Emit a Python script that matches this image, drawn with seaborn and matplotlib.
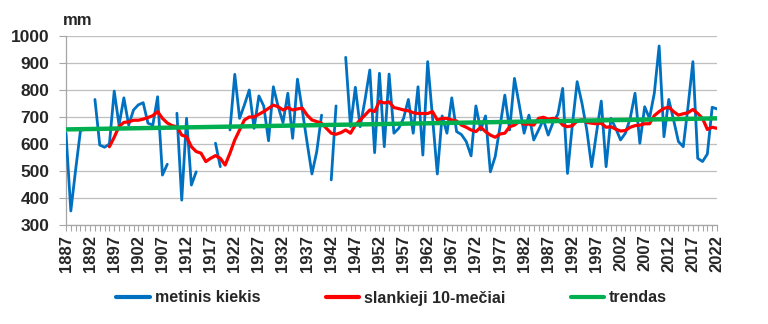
import numpy as np
import pandas as pd
import matplotlib
matplotlib.use("Agg")
import matplotlib.pyplot as plt
from matplotlib.lines import Line2D
import seaborn as sns

# Annual precipitation (mm), 1887-2022; None marks years without data
years = list(range(1887, 2023))
annual = [
    640, 352, 505, 650, 655, None, 765, 596, 588, 600,          # 1887-1896
    796, 670, 771, 670, 726, 745, 753, 677, 670, 775,           # 1897-1906
    485, 525, None, 714, 392, 695, 448, 497, None, None,        # 1907-1916
    None, 603, 516, None, 652, 858, 695, 745, 800, 658,         # 1917-1926
    778, 741, 612, 812, 738, 679, 788, 621, 840, 725,           # 1927-1936
    605, 489, 572, 707, None, 467, 741, None, 921, 664,         # 1937-1946
    810, 664, 763, 874, 568, 862, 590, 859, 640, 658,           # 1947-1956
    695, 765, 640, 812, 559, 905, 700, 489, 704, 640,           # 1957-1966
    771, 646, 635, 609, 556, 741, 652, 704, 497, 553,           # 1967-1976
    664, 781, 652, 843, 744, 640, 707, 615, 652, 690,           # 1977-1986
    633, 680, 710, 806, 491, 670, 831, 751, 652, 516,           # 1987-1996
    640, 759, 516, 695, 658, 615, 640, 695, 788, 603,           # 1997-2006
    738, 695, 788, 963, 627, 765, 689, 609, 590, 740,           # 2007-2016
    905, 547, 535, 563, 736, 730,                               # 2017-2022
]

# 10-year moving average, available from 1896
moving_years = list(range(1896, 2023))
moving = [
    590, 625, 665, 680, 682, 688, 688, 692, 698, 705,           # 1896-1905
    720, 695, 678, 668, 664, 633, 627, 590, 572, 566,           # 1906-1915
    535, 547, 557, 547, 522, 566, 615, 652, 689, 700,           # 1916-1925
    700, 710, 720, 732, 744, 738, 726, 735, 726, 730,           # 1926-1935
    733, 707, 689, 683, 677, 658, 640, 636, 642, 652,           # 1936-1945
    640, 670, 689, 707, 726, 720, 758, 752, 756, 735,           # 1946-1955
    731, 726, 723, 716, 713, 713, 713, 720, 689, 695,           # 1956-1965
    695, 689, 685, 670, 662, 652, 646, 662, 646, 633,           # 1966-1975
    625, 637, 640, 664, 670, 683, 673, 674, 670, 695,           # 1976-1985
    699, 692, 695, 692, 670, 664, 668, 685, 690, 680,           # 1986-1995
    677, 675, 677, 662, 664, 655, 648, 650, 662, 668,           # 1996-2005
    670, 675, 675, 705, 720, 732, 736, 720, 707, 712,           # 2006-2015
    716, 728, 713, 695, 654, 662, 658,                          # 2016-2022
]

# Linear trend end points
trend_years = [1887, 2022]
trend_values = [654, 695]

labels = ["metinis kiekis", "slankieji 10-mečiai", "trendas"]
colors = ["#0070C0", "#FF0000", "#00B050"]

sns.set_theme(style="white")
plt.rcParams["font.family"] = ["Liberation Sans", "DejaVu Sans"]
plt.rcParams["font.weight"] = "bold"

fig = plt.figure(figsize=(7.68, 3.24), dpi=100)
ax = fig.add_axes([66 / 768, 1 - 225 / 324, (717 - 66) / 768, (225 - 36) / 324])

# annual series split into continuous runs so gaps stay open
df = pd.DataFrame({"year": years, "mm": annual}).dropna()
df["run"] = (df["year"].diff() != 1).cumsum()
sns.lineplot(data=df, x="year", y="mm", units="run", estimator=None,
             color=colors[0], lw=2.0, ax=ax, zorder=3)

dm = pd.DataFrame({"year": moving_years, "mm": moving})
sns.lineplot(data=dm, x="year", y="mm", color=colors[1], lw=2.3, ax=ax, zorder=4)

dt = pd.DataFrame({"year": trend_years, "mm": trend_values})
sns.lineplot(data=dt, x="year", y="mm", color=colors[2], lw=3.2, ax=ax, zorder=5)

ax.set_xlim(1887, 2022)
ax.set_ylim(300, 1000)
ax.set_yticks(range(300, 1001, 100))
ax.set_xticks(years)
ax.set_xticklabels([str(y) if (y - 1887) % 5 == 0 else "" for y in years],
                   rotation=90, fontsize=12, fontweight="bold")
ax.tick_params(axis="y", labelsize=12.5, length=5, width=0.8, color="#A6A6A6",
               pad=7, left=True)
ax.tick_params(axis="x", length=4, width=0.8, color="#A6A6A6", pad=3,
               bottom=True)
for t in ax.get_yticklabels():
    t.set_fontweight("bold")
ax.set_xlabel("")
ax.set_ylabel("")
ax.grid(axis="y", color="#BFBFBF", lw=0.9)
ax.grid(axis="x", visible=False)
for side in ["top", "right"]:
    ax.spines[side].set_visible(False)
for side in ["left", "bottom"]:
    ax.spines[side].set_color("#A6A6A6")
    ax.spines[side].set_linewidth(0.9)

fig.text(63 / 768, 1 - 25 / 324, "mm", fontsize=12, fontweight="bold",
         ha="left", va="baseline")

handles = [Line2D([], [], color=c, lw=3) for c in colors]
fig.legend(handles, labels, loc="center", bbox_to_anchor=(0.51, 1 - 298 / 324),
           ncol=3, frameon=False, handlelength=2.1,
           handletextpad=0.3, columnspacing=4.1,
           prop={"weight": "bold", "size": 11.5})

fig.savefig("out.png", dpi=100)
